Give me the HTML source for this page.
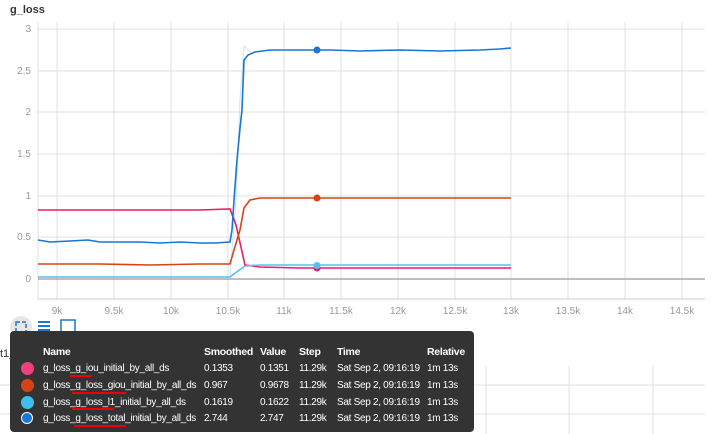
<!DOCTYPE html>
<html><head><meta charset="utf-8"><style>
body{margin:0;width:716px;height:434px;background:#fff;overflow:hidden;font-family:"Liberation Sans",sans-serif;position:relative}
.t{position:absolute;left:10px;top:4px;font-size:11px;font-weight:bold;color:#333}
.tip{position:absolute;left:10px;top:331px;width:464px;height:101px;background:#333;border-radius:4px;color:#fff;font-size:10px;letter-spacing:-0.3px}
.tip div{position:absolute;white-space:nowrap}
.h{font-weight:bold;top:15px;font-size:10.5px}
.dot{width:13px;height:13px;border-radius:50%;left:11px}
</style></head><body>
<div class="t">g_loss</div>
<svg width="716" height="434" style="position:absolute;left:0;top:0">
<g stroke="#e0e0e0" stroke-width="1">
<line x1="38" y1="29" x2="705" y2="29"/><line x1="38" y1="71" x2="705" y2="71"/><line x1="38" y1="112" x2="705" y2="112"/><line x1="38" y1="154" x2="705" y2="154"/><line x1="38" y1="196" x2="705" y2="196"/><line x1="38" y1="237" x2="705" y2="237"/>
<line x1="57" y1="22" x2="57" y2="299"/><line x1="114" y1="22" x2="114" y2="299"/><line x1="171" y1="22" x2="171" y2="299"/><line x1="228" y1="22" x2="228" y2="299"/><line x1="284" y1="22" x2="284" y2="299"/><line x1="341" y1="22" x2="341" y2="299"/><line x1="398" y1="22" x2="398" y2="299"/><line x1="455" y1="22" x2="455" y2="299"/><line x1="511" y1="22" x2="511" y2="299"/><line x1="568" y1="22" x2="568" y2="299"/><line x1="625" y1="22" x2="625" y2="299"/><line x1="682" y1="22" x2="682" y2="299"/>
<line x1="38" y1="22" x2="38" y2="299"/><line x1="38" y1="299" x2="705" y2="299" stroke="#ccc"/>
<line x1="0" y1="385" x2="705" y2="385"/><line x1="0" y1="414" x2="705" y2="414"/>
<line x1="486" y1="366" x2="486" y2="434"/><line x1="569" y1="366" x2="569" y2="434"/><line x1="653" y1="366" x2="653" y2="434"/>
</g>
<line x1="38" y1="279" x2="705" y2="279" stroke="#999" stroke-width="1.2"/>
<g font-size="10" fill="#999" text-anchor="end"><text x="31" y="32">3</text><text x="31" y="74">2.5</text><text x="31" y="115">2</text><text x="31" y="157">1.5</text><text x="31" y="199">1</text><text x="31" y="240">0.5</text><text x="31" y="282">0</text></g>
<g font-size="10" fill="#999" text-anchor="middle"><text x="57" y="314">9k</text><text x="114" y="314">9.5k</text><text x="171" y="314">10k</text><text x="228" y="314">10.5k</text><text x="284" y="314">11k</text><text x="341" y="314">11.5k</text><text x="398" y="314">12k</text><text x="455" y="314">12.5k</text><text x="511" y="314">13k</text><text x="568" y="314">13.5k</text><text x="625" y="314">14k</text><text x="682" y="314">14.5k</text></g>
<g fill="none" stroke-width="1.6">
<polyline stroke="#cfe8f7" stroke-width="1.2" points="230,276 236,200 240,100 244,46 250,52"/>
<polyline stroke="#e91e63" points="38,210 80,210 120,210 160,210 200,210 230,209 236,225 245,265 260,267 300,268 400,268 511,268"/>
<polyline stroke="#d84315" points="38,264 100,264 150,265 200,264 230,264 234,250 240,230 244,208 250,200 260,198 300,198 400,198 511,198"/>
<polyline stroke="#4fc3f7" points="38,277 100,277 200,277 230,277 238,271 245,266 260,265 300,265 400,265 511,265"/>
<polyline stroke="#1976d2" points="38,240 50,242 70,241 88,240 100,242 120,242 140,242 160,243 180,242 200,243 215,243 230,242 232,230 234,200 237,160 240,128 242,110 244,60 248,55 255,52 270,50 300,50 330,50 360,51 400,50 440,51 480,50 500,49 511,48"/>
</g>
<circle cx="317" cy="268" r="3.5" fill="#e91e63"/><circle cx="317" cy="198" r="3.5" fill="#d84315"/><circle cx="317" cy="265.5" r="3.5" fill="#4fc3f7"/><circle cx="317" cy="50" r="3.5" fill="#1976d2"/>
<circle cx="21" cy="327" r="11" fill="#e6e6e6"/>
<rect x="16" y="322" width="10" height="10" fill="none" stroke="#1976d2" stroke-width="1.5" stroke-dasharray="4 2"/>
<g stroke="#1976d2" stroke-width="2"><line x1="38" y1="322" x2="50" y2="322"/><line x1="38" y1="326" x2="50" y2="326"/><line x1="38" y1="330" x2="50" y2="330"/></g>
<rect x="61" y="320" width="14" height="12" fill="none" stroke="#1976d2" stroke-width="1.5"/>
</svg>
<div style="position:absolute;left:0;top:348px;font-size:11px;color:#333">t1_loss</div>
<div class="tip">
<div class="h" style="left:33px">Name</div><div class="h" style="left:194px">Smoothed</div><div class="h" style="left:250px">Value</div><div class="h" style="left:289px">Step</div><div class="h" style="left:327px">Time</div><div class="h" style="left:417px">Relative</div>
<div class="dot" style="top:31px;background:#f0407f"></div><div class="dot" style="top:48px;background:#d84315"></div><div class="dot" style="top:65px;background:#3fbff0"></div><div class="dot" style="top:81px;width:10px;height:10px;background:#1976d2;border:1.5px solid #fff"></div>
<div style="left:33px;top:32px">g_loss_g_iou_initial_by_all_ds</div><div style="left:33px;top:49px">g_loss_g_loss_giou_initial_by_all_ds</div><div style="left:33px;top:66px">g_loss_g_loss_l1_initial_by_all_ds</div><div style="left:33px;top:82px">g_loss_g_loss_total_initial_by_all_ds</div>
<div style="left:194px;top:32px">0.1353</div><div style="left:194px;top:49px">0.967</div><div style="left:194px;top:66px">0.1619</div><div style="left:194px;top:82px">2.744</div>
<div style="left:250px;top:32px">0.1351</div><div style="left:250px;top:49px">0.9678</div><div style="left:250px;top:66px">0.1622</div><div style="left:250px;top:82px">2.747</div>
<div style="left:289px;top:32px">11.29k</div><div style="left:289px;top:49px">11.29k</div><div style="left:289px;top:66px">11.29k</div><div style="left:289px;top:82px">11.29k</div>
<div style="left:327px;top:32px">Sat Sep 2, 09:16:19</div><div style="left:327px;top:49px">Sat Sep 2, 09:16:19</div><div style="left:327px;top:66px">Sat Sep 2, 09:16:19</div><div style="left:327px;top:82px">Sat Sep 2, 09:16:19</div>
<div style="left:417px;top:32px">1m 13s</div><div style="left:417px;top:49px">1m 13s</div><div style="left:417px;top:66px">1m 13s</div><div style="left:417px;top:82px">1m 13s</div>
<div style="left:60px;top:44px;width:22px;height:2px;background:#e00"></div><div style="left:62px;top:61px;width:54px;height:2px;background:#e00"></div><div style="left:62px;top:77px;width:42px;height:2px;background:#e00"></div><div style="left:64px;top:94px;width:52px;height:2px;background:#e00"></div>
</div>
</body></html>
